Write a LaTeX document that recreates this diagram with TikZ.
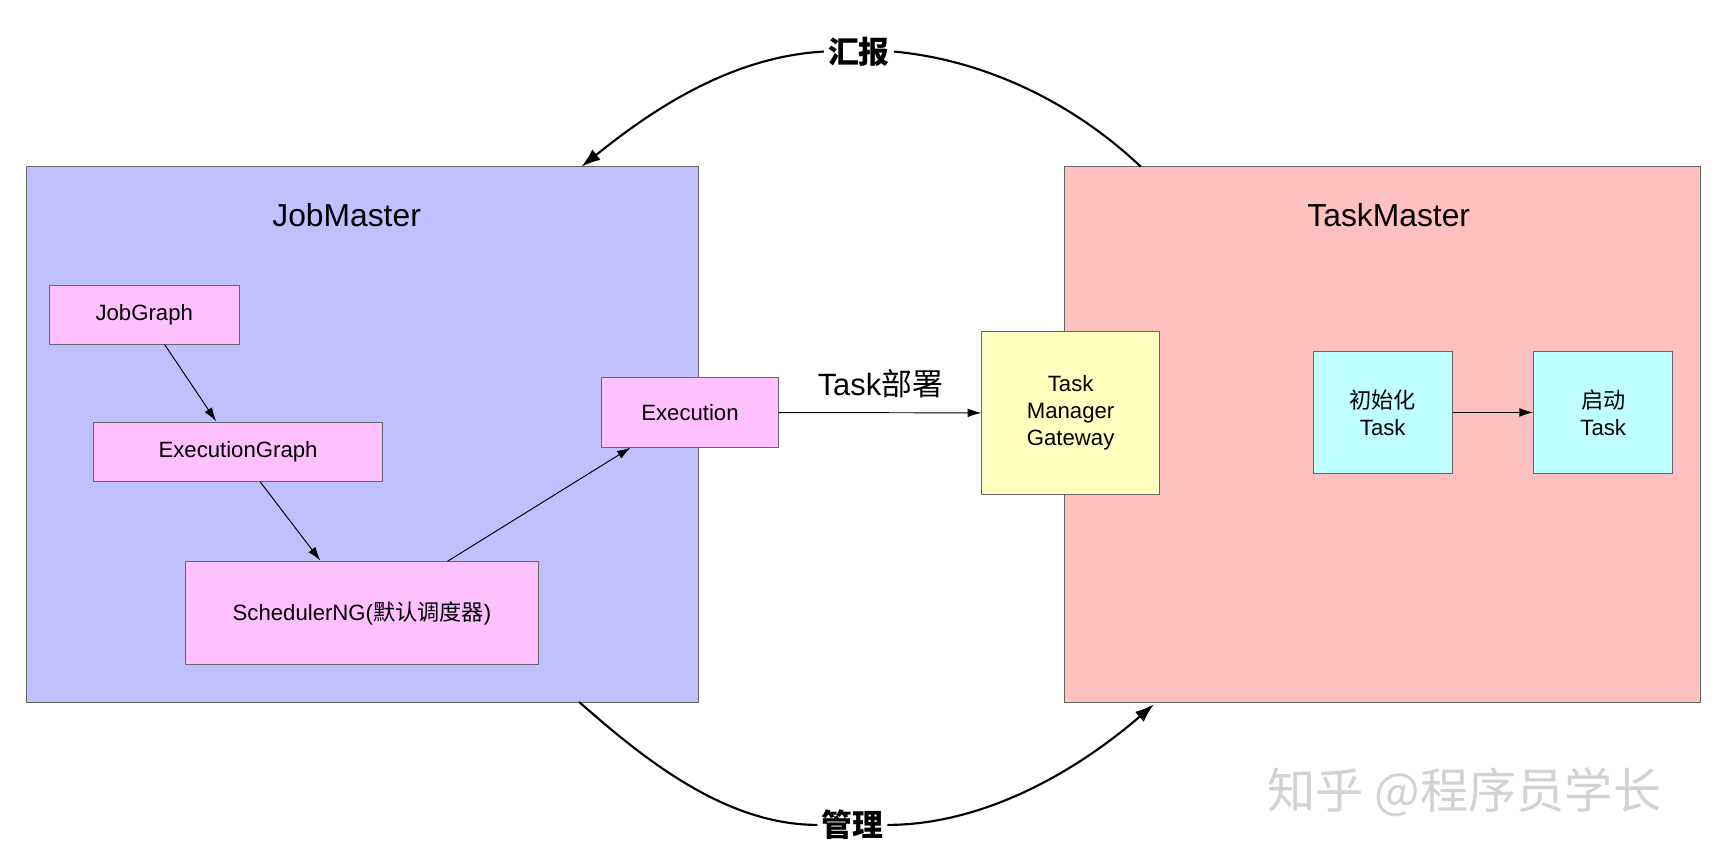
\documentclass[tikz,border=0pt]{standalone}
\usepackage{fontspec}
\setmainfont{Liberation Sans}
\newfontfamily\cjk{Noto Sans CJK SC}
\usetikzlibrary{arrows.meta}
\definecolor{jmblue}{HTML}{C0C0FF}
\definecolor{tmred}{HTML}{FFC0C0}
\definecolor{boxpink}{HTML}{FFC0FF}
\definecolor{boxyellow}{HTML}{FFFFC0}
\definecolor{boxcyan}{HTML}{C0FFFF}
\tikzset{
  area/.style={draw=gray!80!black, line width=0.4pt, minimum height=9.76cm},
  item/.style={draw=gray!80!black, line width=0.4pt, font=\fontsize{11.5}{14}\selectfont, align=center},
  flow/.style={-{Latex[length=2.5mm,width=1.6mm]}, line width=0.5pt},
  bigflow/.style={-{Latex[length=3.5mm,width=2.4mm]}, line width=1.1pt},
  tag/.style={font=\fontsize{16}{18}\selectfont\cjk\bfseries, fill=white, inner sep=2pt}
}
\begin{document}
\begin{tikzpicture}[x=0.02cm,y=-0.02cm]
    \useasboundingbox[fill=white] (0,0) rectangle (1568,786);
    % the two masters
    \node[area, fill=jmblue, minimum width=12.26cm] (jm) at (330.5,396) {};
    \node[area, fill=tmred, minimum width=11.6cm] (tm) at (1260,396) {};
    \node[font=\fontsize{16.5}{18}\selectfont] at (316,196) {JobMaster};
    \node[font=\fontsize{16.5}{18}\selectfont] at (1266,196) {TaskMaster};
	% boxes
    \node[item, fill=boxpink, minimum width=3.46cm, minimum height=1.08cm] (jg) at (131.5,287) {JobGraph};
    \node[item, fill=boxpink, minimum width=5.28cm, minimum height=1.08cm] (eg) at (217,412) {ExecutionGraph};
    \node[item, fill=boxpink, minimum width=6.44cm, minimum height=1.88cm] (sng) at (330,559) {SchedulerNG({\cjk 默认调度器})};
    \node[item, fill=boxpink, minimum width=3.24cm, minimum height=1.28cm] (exec) at (629,376) {Execution};
    \node[item, fill=boxyellow, minimum width=3.24cm, minimum height=2.98cm] (gw) at (976,376.5) {Task\\Manager\\Gateway};
    \node[item, fill=boxcyan, minimum width=2.54cm, minimum height=2.24cm] (init) at (1260.5,376) {{\cjk 初始化}\\Task};
    \node[item, fill=boxcyan, minimum width=2.54cm, minimum height=2.24cm] (start) at (1461.5,376) {{\cjk 启动}\\Task};
	% inner arrows
    \draw[flow] (150,314) -- (197,384);
    \draw[flow] (237,439) -- (292,511);
    \draw[flow] (sng.north -| 408,0) -- (575,408);
    \draw[flow] (exec) -- (gw) node[midway, above=4pt, font=\fontsize{16}{18}\selectfont] {Task{\cjk 部署}};
    \draw[flow] (init) -- (start);
	% outer arcs
    \node[tag] (hb) at (783,47) {汇报};
    \node[tag] (gl) at (777,752) {管理};
    \coordinate (tmtop) at (1040,152);
    \coordinate (jmtop) at (530,152);
    \coordinate (jmbot) at (528,640);
    \coordinate (tmbot) at (1052,642);
    \draw[line width=1.1pt] (tmtop) .. controls (980,95) and (900,55) .. (hb.east);
    \draw[bigflow] (hb.west) .. controls (660,52) and (585,108) .. (jmtop);
    \draw[line width=1.1pt] (jmbot) .. controls (585,690) and (660,752) .. (gl.west);
    \draw[bigflow] (gl.east) .. controls (900,752) and (985,700) .. (tmbot);
    % watermark
    \node[font=\fontsize{25}{27}\selectfont\cjk, text=gray!35] (wm) at (1335,722) {知乎 @程序员学长};
\end{tikzpicture}
\end{document}
